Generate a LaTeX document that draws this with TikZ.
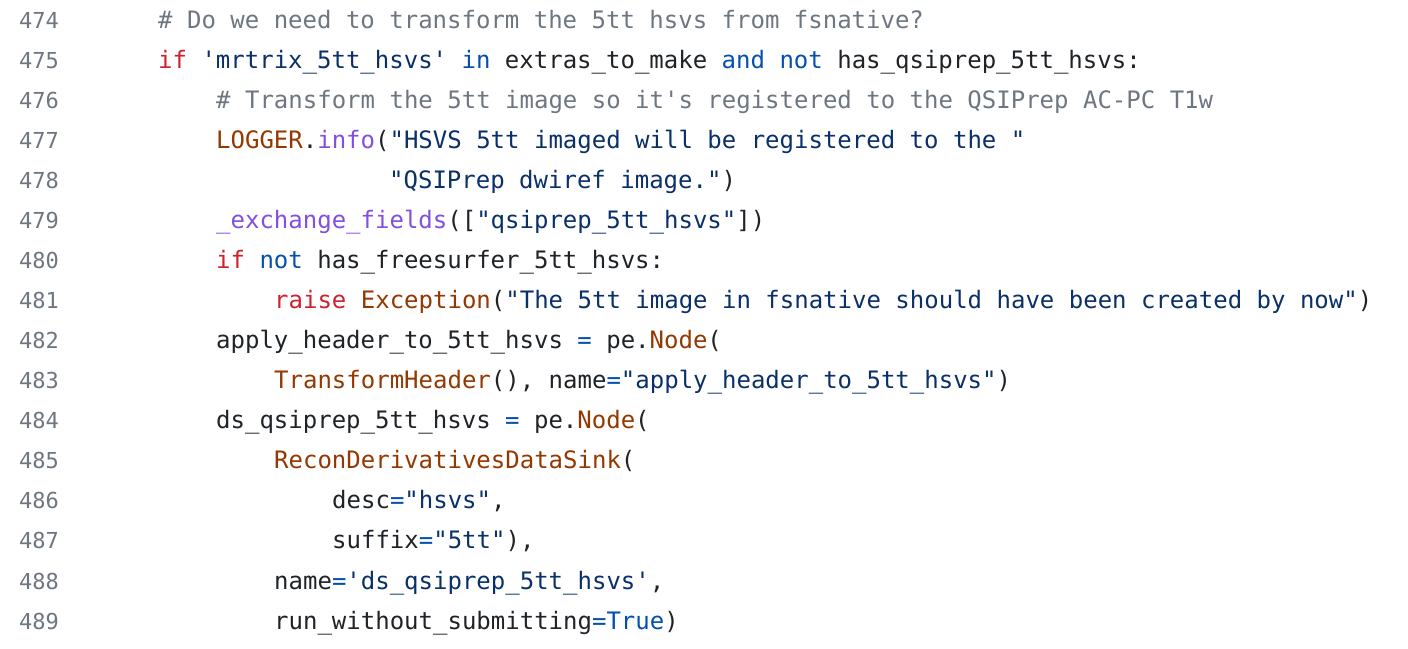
\documentclass[tikz,border=0pt]{standalone}
\usepackage{fontspec}
\setmonofont{DejaVu Sans Mono}
\definecolor{cmtgray}{HTML}{6E7781}
\definecolor{kwred}{HTML}{CF222E}
\definecolor{strblue}{HTML}{0A3069}
\definecolor{fnpurple}{HTML}{8250DF}
\definecolor{clsbrown}{HTML}{953800}
\definecolor{opblue}{HTML}{0550AE}
\definecolor{plain}{HTML}{1F2328}
\newcommand{\kw}[1]{\textcolor{kwred}{#1}}
\newcommand{\cstr}[1]{\textcolor{strblue}{#1}}
\newcommand{\cmt}[1]{\textcolor{cmtgray}{#1}}
\newcommand{\fn}[1]{\textcolor{fnpurple}{#1}}
\newcommand{\cls}[1]{\textcolor{clsbrown}{#1}}
\newcommand{\op}[1]{\textcolor{opblue}{#1}}
\tikzset{
  codeline/.style={anchor=base west, inner sep=0pt, text=plain,
    font=\ttfamily\fontsize{24}{24}\selectfont},
  lineno/.style={anchor=base east, inner sep=0pt, text=cmtgray,
    font=\ttfamily\fontsize{22}{22}\selectfont}
}
\begin{document}
\begin{tikzpicture}[x=1pt,y=1pt]
  \useasboundingbox[fill=white] (0,0) rectangle (1408,648);
  % line numbers
  \foreach \n [count=\i from 0] in {474,...,489}
    \node[lineno] (n\n) at (59,{619-40*\i}) {\n};
  % code
  \node[codeline] (l474) at (158,619) {\cmt{\# Do we need to transform the 5tt hsvs from fsnative?}};
  \node[codeline] (l475) at (158,579) {\kw{if} \cstr{'mrtrix\_5tt\_hsvs'} \op{in} extras\_to\_make \op{and} \op{not} has\_qsiprep\_5tt\_hsvs:};
  \node[codeline] (l476) at (216,539) {\cmt{\# Transform the 5tt image so it's registered to the QSIPrep AC-PC T1w}};
  \node[codeline] (l477) at (216,499) {\cls{LOGGER}.\fn{info}(\cstr{"HSVS 5tt imaged will be registered to the "}};
  \node[codeline] (l478) at (389,459) {\cstr{"QSIPrep dwiref image."})};
  \node[codeline] (l479) at (216,419) {\fn{\_exchange\_fields}([\cstr{"qsiprep\_5tt\_hsvs"}])};
  \node[codeline] (l480) at (216,379) {\kw{if} \op{not} has\_freesurfer\_5tt\_hsvs:};
  \node[codeline] (l481) at (274,339) {\kw{raise} \cls{Exception}(\cstr{"The 5tt image in fsnative should have been created by now"})};
  \node[codeline] (l482) at (216,299) {apply\_header\_to\_5tt\_hsvs \op{=} pe.\cls{Node}(};
  \node[codeline] (l483) at (274,259) {\cls{TransformHeader}(), name\op{=}\cstr{"apply\_header\_to\_5tt\_hsvs"})};
  \node[codeline] (l484) at (216,219) {ds\_qsiprep\_5tt\_hsvs \op{=} pe.\cls{Node}(};
  \node[codeline] (l485) at (274,179) {\cls{ReconDerivativesDataSink}(};
  \node[codeline] (l486) at (332,139) {desc\op{=}\cstr{"hsvs"},};
  \node[codeline] (l487) at (332,99) {suffix\op{=}\cstr{"5tt"}),};
  \node[codeline] (l488) at (274,59) {name\op{=}\cstr{'ds\_qsiprep\_5tt\_hsvs'},};
  \node[codeline] (l489) at (274,19) {run\_without\_submitting\op{=}\op{True})};
\end{tikzpicture}
\end{document}
